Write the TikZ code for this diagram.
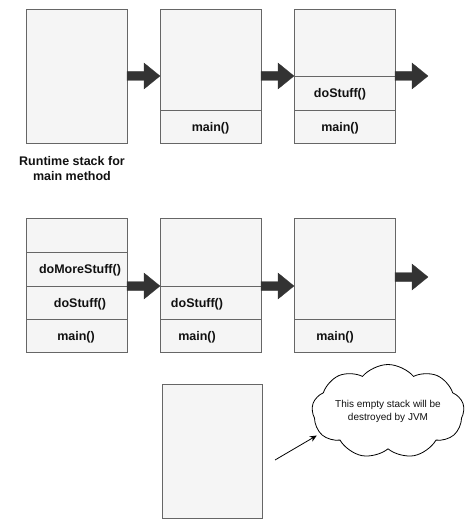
\documentclass[tikz,border=0pt]{standalone}
\usepackage{fontspec}
\setmainfont{Liberation Sans}
\usetikzlibrary{shapes.symbols,calc,arrows.meta}
\definecolor{cellfill}{HTML}{F5F5F5}
\definecolor{cellline}{HTML}{666666}
\definecolor{arrowdark}{HTML}{333333}
\definecolor{txt}{HTML}{111111}
\tikzset{
  cell/.style={draw=cellline, fill=cellfill, line width=0.9pt, minimum width=101pt, inner sep=0pt, outer sep=0pt},
  lbl/.style={font=\bfseries\fontsize{12.5}{15}\selectfont, text=txt, inner sep=0pt},
  cloudtxt/.style={font=\fontsize{10}{12.5}\selectfont, text=txt, align=center},
  blockarrow/.style={fill=arrowdark, draw=arrowdark, line width=0.3pt}
}
\newcommand{\blockarr}[2]{%
  \fill[blockarrow] ($(#1)+(0,-4.5)$) -- ($(#1)+(17,-4.5)$) -- ($(#1)+(17,-13)$) -- ($(#1)+(33,0)$) -- ($(#1)+(17,13)$) -- ($(#1)+(17,4.5)$) -- ($(#1)+(0,4.5)$) -- cycle;}
\begin{document}
\begin{tikzpicture}[x=1pt,y=-1pt]
\useasboundingbox (0,0) rectangle (474,526);
% Row 1
\node[cell, minimum height=134pt] (a1) at (76.5,76) {};
\node[cell, minimum height=101pt] (a2t) at (210.5,59.5) {};
\node[cell, minimum height=33pt] (a2b) at (210.5,126.5) {};
\node[cell, minimum height=67pt] (a3t) at (344.5,42.5) {};
\node[cell, minimum height=34pt] (a3m) at (344.5,93) {};
\node[cell, minimum height=33pt] (a3b) at (344.5,126.5) {};
\node[lbl] (la2b) at (210.5,128) {main()};
\node[lbl] (la3m) at (340,94) {doStuff()};
\node[lbl] (la3b) at (340,128) {main()};
\node[lbl, align=center] (cap) at (72,168.5) {Runtime stack for\\main method};
% arrows row1
\coordinate (r1a) at (a1.east);
\coordinate (r1b) at (a2t.east |- a1.east);
\coordinate (r1c) at (a3t.east |- a1.east);
\blockarr{r1a}{}
\blockarr{r1b}{}
\blockarr{r1c}{}
% Row 2
\node[cell, minimum height=34pt] (b1a) at (76.5,235) {};
\node[cell, minimum height=34pt] (b1b) at (76.5,269) {};
\node[cell, minimum height=33pt] (b1c) at (76.5,302.5) {};
\node[cell, minimum height=33pt] (b1d) at (76.5,335.5) {};
\node[cell, minimum height=68pt] (b2a) at (210.5,252) {};
\node[cell, minimum height=33pt] (b2b) at (210.5,302.5) {};
\node[cell, minimum height=33pt] (b2c) at (210.5,335.5) {};
\node[cell, minimum height=101pt] (b3a) at (344.5,268.5) {};
\node[cell, minimum height=33pt] (b3b) at (344.5,335.5) {};
\node[lbl] (lb1b) at (80,270) {doMoreStuff()};
\node[lbl] (lb1c) at (80,304) {doStuff()};
\node[lbl] (lb1d) at (76,337) {main()};
\node[lbl] (lb2b) at (197,304) {doStuff()};
\node[lbl] (lb2c) at (197,337) {main()};
\node[lbl] (lb3b) at (335,337) {main()};
\coordinate (r2a) at (b1b.south east);
\coordinate (r2b) at (b2a.south east);
\coordinate (r2c) at ($(b3a.east)+(0,8.5)$);
\blockarr{r2a}{}
\blockarr{r2b}{}
\blockarr{r2c}{}
% Row 3
\node[cell, minimum width=100pt, minimum height=134pt] (c1) at (212,451) {};
\node[cloud, cloud puffs=9, cloud puff arc=100, aspect=2, draw=black, fill=white, line width=0.8pt, minimum width=148pt, minimum height=76pt, inner sep=0pt, cloudtxt] (cl) at (388,411.5) {This empty stack will be\\destroyed by JVM};
\coordinate (ptr) at (275,460);
\draw[-{Stealth[length=7pt,width=6pt]}, line width=0.8pt, black] (ptr) -- ($(cl.west)+(5,24)$);
\end{tikzpicture}
\end{document}
